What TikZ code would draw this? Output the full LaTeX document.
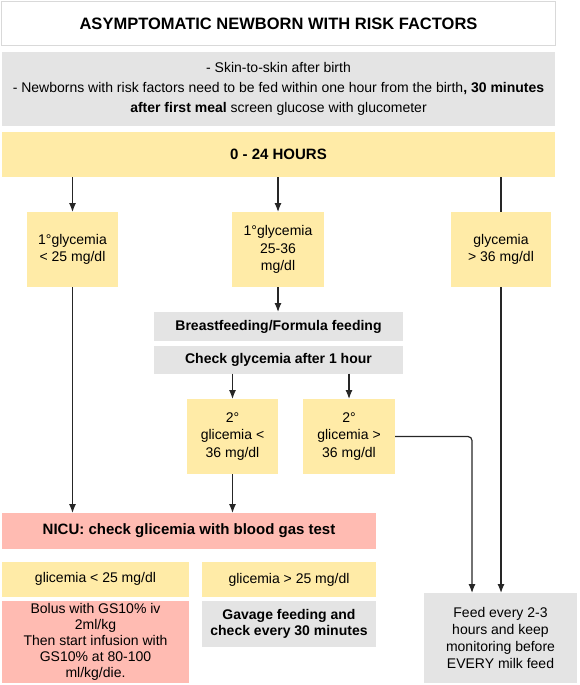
\documentclass[tikz,border=0pt]{standalone}
\usepackage{fontspec}
\setmainfont{Liberation Sans}
\usetikzlibrary{arrows.meta}

\definecolor{boxyellow}{RGB}{255,235,167}
\definecolor{boxpink}{RGB}{255,187,178}
\definecolor{boxgray}{RGB}{228,228,228}

\begin{document}
\begin{tikzpicture}[x=1pt,y=-1pt,
	box/.style={inner sep=0pt,outer sep=0pt,align=center,font=\fontsize{14}{17.5}\selectfont},
	yel/.style={box,fill=boxyellow},
	gry/.style={box,fill=boxgray},
	pnk/.style={box,fill=boxpink},
	bhead/.style={font=\fontsize{15}{18}\selectfont\bfseries},
	link/.style={line width=1.2pt,black!85,>={Latex[length=9pt,width=7pt]}}]
	\useasboundingbox (0,0) rectangle (579,685);

	% header rows
	\node[box,draw=black!15,line width=1pt,minimum width=554pt,minimum height=44.5pt,font=\fontsize{16.5}{20}\selectfont\bfseries] (title) at (278.5,23.75) {ASYMPTOMATIC NEWBORN WITH RISK FACTORS};
	\node[gry,minimum width=553pt,minimum height=74pt,font=\fontsize{14}{20}\selectfont] (intro) at (278.5,89) {- Skin-to-skin after birth\\- Newborns with risk factors need to be fed within one hour from the birth\textbf{, 30 minutes}\\\textbf{after first meal} screen glucose with glucometer};
	\node[yel,bhead,minimum width=553pt,minimum height=45pt] (hours) at (278.5,154.5) {0 - 24 HOURS};

	% first glycemia
	\node[yel,minimum width=91pt,minimum height=75pt] (g1) at (72.5,249.5) {1°glycemia\\< 25 mg/dl};
	\node[yel,minimum width=92pt,minimum height=75pt] (g2) at (278,249.5) {1°glycemia\\25-36\\mg/dl};
	\node[yel,minimum width=100pt,minimum height=75pt] (g3) at (501,249.5) {glycemia\\> 36 mg/dl};

	\node[gry,minimum width=249pt,minimum height=29pt,font=\fontsize{14}{17}\selectfont\bfseries] (feeding) at (278.5,326.5) {Breastfeeding/Formula feeding};
	\node[gry,minimum width=249pt,minimum height=28pt,font=\fontsize{14}{17}\selectfont\bfseries] (check) at (278.5,359.5) {Check glycemia after 1 hour};

	% second glycemia
	\node[yel,minimum width=91pt,minimum height=75pt] (s1) at (232.5,436.5) {2°\\glicemia <\\36 mg/dl};
	\node[yel,minimum width=92pt,minimum height=75pt] (s2) at (349,436.5) {2°\\glicemia >\\36 mg/dl};

	% NICU part
	\node[pnk,bhead,minimum width=374pt,minimum height=36pt] (nicu) at (189,531) {NICU: check glicemia with blood gas test};
	\node[yel,minimum width=187pt,minimum height=34.5pt] (low) at (95.5,579.25) {glicemia < 25 mg/dl};
	\node[yel,minimum width=174pt,minimum height=35pt] (high) at (289,579.5) {glicemia > 25 mg/dl};
	\node[pnk,minimum width=187pt,minimum height=82pt,font=\fontsize{14}{16}\selectfont] (bolus) at (95.5,642) {Bolus with GS10\% iv\\2ml/kg\\Then start infusion with\\GS10\% at 80-100\\ml/kg/die.};
	\node[gry,minimum width=174pt,minimum height=46pt,font=\fontsize{14}{16}\selectfont\bfseries] (gavage) at (289,624) {Gavage feeding and\\check every 30 minutes};

	\node[gry,minimum width=153pt,minimum height=90pt,font=\fontsize{14}{16.7}\selectfont] (feed) at (500.5,638) {Feed every 2-3\\hours and keep\\monitoring before\\EVERY milk feed};
	\coordinate (fin) at ([xshift=48pt]feed.north west);

	% connectors
	\draw[link,->] (g1.north |- hours.south) -- (g1.north);
	\draw[link,->] (g2.north |- hours.south) -- (g2.north);
	\draw[link] (g3.north |- hours.south) -- (g3.north);
	\draw[link,->] (g1.south) -- (g1.south |- nicu.north);
	\draw[link,->] (g2.south) -- (g2.south |- feeding.north);
	\draw[link,->] (s1.north |- check.south) -- (s1.north);
	\draw[link,->] (s2.north |- check.south) -- (s2.north);
	\draw[link,->] (s1.south) -- (s1.south |- nicu.north);
	\draw[link,->,rounded corners=4pt] (s2.east) -| (fin);
	\draw[link,->] (g3.south) -- (g3.south |- feed.north);
\end{tikzpicture}
\end{document}
